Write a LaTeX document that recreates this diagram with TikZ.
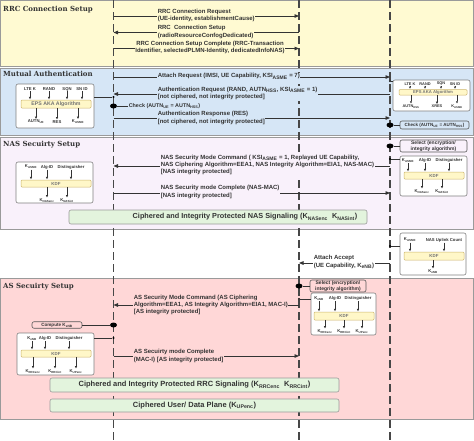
\documentclass[tikz,border=0pt]{standalone}
\usepackage{fontspec}
\setmainfont{Liberation Sans}
\newfontfamily\ttlfam{DejaVu Serif}
\usetikzlibrary{arrows.meta,shapes.geometric}
\definecolor{bandY}{HTML}{FFFAD2}
\definecolor{bandB}{HTML}{D6E6F6}
\definecolor{bandP}{HTML}{F9F1FB}
\definecolor{bandR}{HTML}{FFD7D7}
\definecolor{grn}{HTML}{E3F4DD}
\definecolor{barY}{HTML}{FFF7C8}
\definecolor{barD}{HTML}{CDB66E}
\definecolor{ink}{HTML}{333333}
\definecolor{edge}{HTML}{9A9A9A}
\newcommand{\ks}[1]{\textsubscript{#1}}
\newcommand{\msgfont}{\fontsize{6}{7.2}\selectfont\bfseries}
\newcommand{\tnyfont}{\fontsize{4.2}{5}\selectfont\bfseries}
\newcommand{\ttlfont}{\ttlfam\bfseries\fontsize{7}{9}\selectfont}
\newcommand{\grnfont}{\fontsize{7.5}{9}\selectfont\bfseries}
\begin{document}
\begin{tikzpicture}[x=1pt,y=-1pt,
  band/.style={draw=edge, line width=0.7pt},
  ttl/.style={font=\ttlfont, text=ink, anchor=base west, inner sep=0pt},
  lifeline/.style={draw=black!72, line width=1.3pt, dash pattern=on 8pt off 4pt},
  msg/.style={draw=ink, line width=0.9pt, -{Triangle[length=4.5pt,width=3.6pt]}},
  lbl/.style={font=\msgfont, text=ink, inner sep=0.6pt, align=left, anchor=west},
  conn/.style={draw=ink, line width=0.8pt},
  bigdot/.style={ellipse, fill=black, inner sep=0pt, minimum width=7pt, minimum height=5pt},
  smalldot/.style={circle, fill=black, inner sep=0pt, minimum size=2.4pt},
  kbox/.style={draw=black!50, fill=white, rounded corners=2pt, line width=0.6pt, inner sep=0pt},
  kbar/.style={draw=barD, fill=barY, rounded corners=1pt, line width=0.5pt, inner sep=0pt, text=black!55, font=\fontsize{4.4}{5}\selectfont\bfseries},
  tny/.style={font=\tnyfont, text=ink, inner sep=0.4pt},
  sarr/.style={draw=ink, line width=0.5pt, shorten >=0.6pt, -{Triangle[length=2.2pt,width=2pt]}},
  selbox/.style={draw=black!65, rounded corners=2pt, line width=0.6pt, inner sep=0pt, align=center, font=\fontsize{5}{5.6}\selectfont\bfseries, text=ink},
  gbox/.style={draw=edge, fill=grn, rounded corners=2pt, line width=0.6pt, inner sep=0pt, font=\grnfont, text=ink}
]
\useasboundingbox (0,0) rectangle (474,440);
\fill[white] (0,0) rectangle (474,440);
% bands
\draw[band, fill=bandY] (0.5,0.5) rectangle (473.5,66.5);
\draw[band, fill=bandB] (0.5,68) rectangle (473.5,135.5);
\draw[band, fill=bandP] (0.5,137) rectangle (473.5,229.5);
\draw[band, fill=bandR] (0.5,278) rectangle (473.5,419.5);
\node[ttl] (t1) at (3,11.5) {RRC Connection Setup};
\node[ttl] (t2) at (3,76) {Mutual Authentication};
\node[ttl] (t3) at (3,146.5) {NAS Secuirty Setup};
\node[ttl] (t4) at (3,288.5) {AS Secuirty Setup};
% lifelines
\coordinate (ueT) at (113.5,0); \coordinate (ueB) at (113.5,440);
\coordinate (enT) at (299,0); \coordinate (enB) at (299,440);
\coordinate (mmT) at (390,0); \coordinate (mmB) at (390,440);
\draw[lifeline] (ueT) -- (ueB);
\draw[lifeline] (enT) -- (enB);
\draw[lifeline] (mmT) -- (mmB);
% ---- RRC
\coordinate (m1a) at (113.5,16); \coordinate (m1b) at (299,16);
\draw[msg] (m1a) -- (m1b);
\node[lbl, fill=bandY] (m1l) at (157,15.5) {RRC Connection Request\\(UE-identity, establishmentCause)};
\coordinate (m2a) at (299,32.5); \coordinate (m2b) at (113.5,32.5);
\draw[msg] (m2a) -- (m2b);
\node[lbl, fill=bandY] (m2l) at (157,32) {RRC\ \ Connection Setup\\(radioResourceConfogDedicated)};
\coordinate (m3a) at (113.5,48.5); \coordinate (m3b) at (299,48.5);
\draw[msg] (m3a) -- (m3b);
\node[lbl, fill=bandY, align=center, anchor=center] (m3l) at (210,47.5) {RRC Connection Setup Complete (RRC-Transaction\\Identifier, selectedPLMN-Identity, dedicatedInfoNAS)};
% ---- Mutual authentication
\coordinate (m4a) at (113.5,77); \coordinate (m4b) at (390,77);
\draw[msg] (m4a) -- (m4b);
\node[lbl, fill=bandB] (m4l) at (157,76.5) {Attach Request (IMSI, UE Capability, KSI\ks{ASME} = 7)};
\coordinate (m5a) at (390,94); \coordinate (m5b) at (113.5,94);
\draw[msg] (m5a) -- (m5b);
\node[lbl, fill=bandB] (m5l) at (157,93.5) {Authentication Request (RAND, AUTN\ks{HSS}, KSI\ks{ASME} = 1)\\{}[not ciphered, not integrity protected]};
\coordinate (m6a) at (113.5,118); \coordinate (m6b) at (390,118);
\draw[msg] (m6a) -- (m6b);
\node[lbl, fill=bandB] (m6l) at (157,118) {Authentication Response (RES)\\{}[not ciphered, not integrity protected]};
% UE AKA box
\node[kbox, minimum width=78pt, minimum height=44pt] (uaka) at (55,106) {};
\node[kbar, minimum width=70pt, minimum height=8pt, font=\fontsize{5.2}{6}\selectfont\bfseries] (uakab) at (56,104) {EPS AKA Algorithm};
\foreach \x/\t [count=\i] in {30/LTE K,49/RAND,67/SQN,82/SN ID}{
  \node[tny] (uakai\i) at (\x,89) {\t};
  \draw[sarr] (uakai\i.south) -- (uakai\i.south |- uakab.north);}
\foreach \x/\t [count=\i] in {36/AUTN\ks{UE},57/RES,78/K\ks{ASME}}{
  \node[tny] (uakao\i) at (\x,122) {\t};
  \draw[sarr] (uakao\i.north |- uakab.south) -- (uakao\i.north);}
\node[smalldot] (ud1) at (113.5,97) {};
\draw[conn] (uaka.east |- ud1) -- (ud1);
\node[bigdot] (uck) at (113.5,106) {};
\node[lbl, font=\fontsize{5.4}{6}\selectfont\bfseries, fill=bandB] (uckt) at (128,106) {Check (AUTN\ks{UE} = AUTN\ks{HSS})};
\draw[conn, line width=0.5pt] (uck) -- (uckt);
% MME AKA box
\node[kbox, minimum width=77pt, minimum height=31pt] (maka) at (431.5,95.5) {};
\node[kbar, minimum width=68pt, minimum height=5.5pt, font=\fontsize{4.2}{5}\selectfont\bfseries] (makab) at (433,92.3) {EPS AKA Algorithm};
\foreach \x/\t [count=\i] in {410/LTE K,425/RAND,441/SQN,455/SN ID}{
  \node[tny, font=\fontsize{3.9}{4.5}\selectfont\bfseries] (makai\i) at (\x,84) {\t};
  \draw[sarr] (makai\i.south) -- (makai\i.south |- makab.north);}
\foreach \x/\t [count=\i] in {411/AUTN\ks{HSS},437/XRES,457/K\ks{ASME}}{
  \node[tny, font=\fontsize{3.9}{4.5}\selectfont\bfseries] (makao\i) at (\x,106.5) {\t};
  \draw[sarr] (makao\i.north |- makab.south) -- (makao\i.north);}
\node[smalldot] (md1) at (390,81) {};
\draw[conn] (md1) -- (maka.west |- md1);
\node[bigdot] (mck) at (390,125) {};
\node[selbox, fill=bandB, minimum width=69pt, minimum height=8pt, font=\fontsize{4.5}{5}\selectfont\bfseries] (mckt) at (434.5,125) {Check (AUTN\ks{UE} = AUTN\ks{HSS})};
\draw[conn] (mck) -- (mckt);
% ---- NAS security
\node[bigdot] (msel) at (390,146) {};
\node[selbox, fill=bandP, minimum width=67pt, minimum height=12pt] (mselt) at (433.5,146) {Select (encryption/\\integrity algorithm)};
\draw[conn] (msel) -- (mselt);
\node[kbox, minimum width=67pt, minimum height=40pt] (mkdf1) at (433.5,176) {};
\node[kbar, minimum width=60pt, minimum height=7pt] (mkdf1b) at (434,175.5) {KDF};
\foreach \x/\t [count=\i] in {408/K\ks{ASME},425/Alg-ID,449/Distinguisher}{
  \node[tny] (mkdf1i\i) at (\x,160.5) {\t};
  \draw[sarr] (mkdf1i\i.south) -- (mkdf1i\i.south |- mkdf1b.north);}
\foreach \x/\t [count=\i] in {422/K\ks{NASenc},442/K\ks{NASint}}{
  \node[tny] (mkdf1o\i) at (\x,191.5) {\t};
  \draw[sarr] (mkdf1o\i.north |- mkdf1b.south) -- (mkdf1o\i.north);}
\node[smalldot] (md2) at (390,159) {};
\draw[conn] (md2) -- (mkdf1.west |- md2);
\node[kbox, minimum width=77pt, minimum height=41pt] (ukdf1) at (54.5,182.5) {};
\node[kbar, minimum width=70pt, minimum height=7pt] (ukdf1b) at (56,183.5) {KDF};
\foreach \x/\t [count=\i] in {31/K\ks{ASME},47/Alg-ID,71/Distinguisher}{
  \node[tny] (ukdf1i\i) at (\x,167) {\t};
  \draw[sarr] (ukdf1i\i.south) -- (ukdf1i\i.south |- ukdf1b.north);}
\foreach \x/\t [count=\i] in {47/K\ks{NASenc},67/K\ks{NASint}}{
  \node[tny] (ukdf1o\i) at (\x,200.5) {\t};
  \draw[sarr] (ukdf1o\i.north |- ukdf1b.south) -- (ukdf1o\i.north);}
\coordinate (m7a) at (390,166); \coordinate (m7b) at (113.5,166);
\draw[msg] (m7a) -- (m7b);
\node[lbl, fill=bandP] (m7l) at (160,165) {NAS Security Mode Command ( KSI\ks{ASME} = 1, Replayed UE Capability,\\NAS Ciphering Algorithm=EEA1, NAS Integrity Algorithm=EIA1, NAS-MAC)\\{}[NAS integrity protected]};
\coordinate (m8a) at (113.5,193); \coordinate (m8b) at (390,193);
\draw[msg] (m8a) -- (m8b);
\node[lbl, fill=bandP] (m8l) at (160,192) {NAS Security mode Complete (NAS-MAC)\\{}[NAS integrity protected]};
\node[gbox, minimum width=298pt, minimum height=14pt] (gnas) at (218,217) {};
\node[font=\fontsize{7.3}{9}\selectfont\bfseries, text=ink, inner sep=0pt] (gnast) at (245,217) {Ciphered and Integrity Protected NAS Signaling (K\ks{NASenc}\ \ K\ks{NASint})};
% ---- attach accept region
\node[kbox, minimum width=66pt, minimum height=42pt] (mkdf2) at (433,254) {};
\node[kbar, minimum width=60pt, minimum height=8pt] (mkdf2b) at (434,256) {KDF};
\foreach \x/\t [count=\i] in {410/K\ks{ASME},444/NAS Uplink Count}{
  \node[tny] (mkdf2i\i) at (\x,240) {\t};
  \draw[sarr] (mkdf2i\i.south) -- (mkdf2i\i.south |- mkdf2b.north);}
\node[tny] (mkdf2o1) at (433,271.5) {K\ks{eNB}};
\draw[sarr] (mkdf2o1.north |- mkdf2b.south) -- (mkdf2o1.north);
\node[smalldot] (md3) at (390,246) {};
\draw[conn] (md3) -- (mkdf2.west |- md3);
\coordinate (m9a) at (390,263); \coordinate (m9b) at (299,263);
\draw[msg] (m9a) -- (m9b);
\node[lbl, fill=white] (m9l) at (313,262) {Attach Accept\\(UE Capability, K\ks{eNB})};
% ---- AS security
\node[bigdot] (esel) at (299,286) {};
\node[selbox, fill=bandR, minimum width=56pt, minimum height=12pt] (eselt) at (338,286) {Select (encryption/\\integrity algorithm)};
\draw[conn] (esel) -- (eselt);
\node[kbox, minimum width=65pt, minimum height=42pt] (ekdf) at (343.5,314) {};
\node[kbar, minimum width=60pt, minimum height=8pt] (ekdfb) at (344,316) {KDF};
\foreach \x/\t [count=\i] in {319/K\ks{eNB},335/Alg-ID,358/Distinguisher}{
  \node[tny] (ekdfi\i) at (\x,298.5) {\t};
  \draw[sarr] (ekdfi\i.south) -- (ekdfi\i.south |- ekdfb.north);}
\foreach \x/\t [count=\i] in {325/K\ks{RRCenc},344/K\ks{RRCint},362/K\ks{UPenc}}{
  \node[tny] (ekdfo\i) at (\x,331.5) {\t};
  \draw[sarr] (ekdfo\i.north |- ekdfb.south) -- (ekdfo\i.north);}
\node[smalldot] (ed1) at (299,299) {};
\draw[conn] (ed1) -- (ekdf.west |- ed1);
\coordinate (m10a) at (299,305); \coordinate (m10b) at (113.5,305);
\draw[msg] (m10a) -- (m10b);
\node[lbl, fill=bandR] (m10l) at (133,305) {AS Security Mode Command (AS Ciphering\\Algorithm=EEA1, AS Integrity Algorithm=EIA1, MAC-I)\\{}[AS integrity protected]};
\node[bigdot] (ucmp) at (113.5,325) {};
\node[selbox, fill=bandR, minimum width=50pt, minimum height=6.5pt, font=\fontsize{4.6}{5}\selectfont\bfseries] (ucmpt) at (57,325) {Compute K\ks{eNB}};
\draw[conn] (ucmpt) -- (ucmp);
\node[kbox, minimum width=77pt, minimum height=42pt] (ukdf2) at (55.5,354) {};
\node[kbar, minimum width=70pt, minimum height=7pt] (ukdf2b) at (56,353.5) {KDF};
\foreach \x/\t [count=\i] in {32/K\ks{eNB},45/Alg-ID,69/Distinguisher}{
  \node[tny] (ukdf2i\i) at (\x,338.5) {\t};
  \draw[sarr] (ukdf2i\i.south) -- (ukdf2i\i.south |- ukdf2b.north);}
\foreach \x/\t [count=\i] in {33/K\ks{RRCenc},55/K\ks{RRCint},76/K\ks{UPenc}}{
  \node[tny] (ukdf2o\i) at (\x,371.5) {\t};
  \draw[sarr] (ukdf2o\i.north |- ukdf2b.south) -- (ukdf2o\i.north);}
\node[smalldot] (ud2) at (113.5,338) {};
\draw[conn] (ukdf2.east |- ud2) -- (ud2);
\coordinate (m11a) at (113.5,356); \coordinate (m11b) at (299,356);
\draw[msg] (m11a) -- (m11b);
\node[lbl, fill=bandR] (m11l) at (133,356) {AS Secuirty mode Complete\\(MAC-I) [AS integrity protected]};
\node[gbox, minimum width=289pt, minimum height=14pt] (grrc) at (194.5,385) {Ciphered and Integrity Protected RRC Signaling (K\ks{RRCenc}\ \ K\ks{RRCint})};
\node[gbox, minimum width=289pt, minimum height=13pt] (gup) at (194.5,405.5) {Ciphered User/ Data Plane (K\ks{UPenc})};
\end{tikzpicture}
\end{document}
